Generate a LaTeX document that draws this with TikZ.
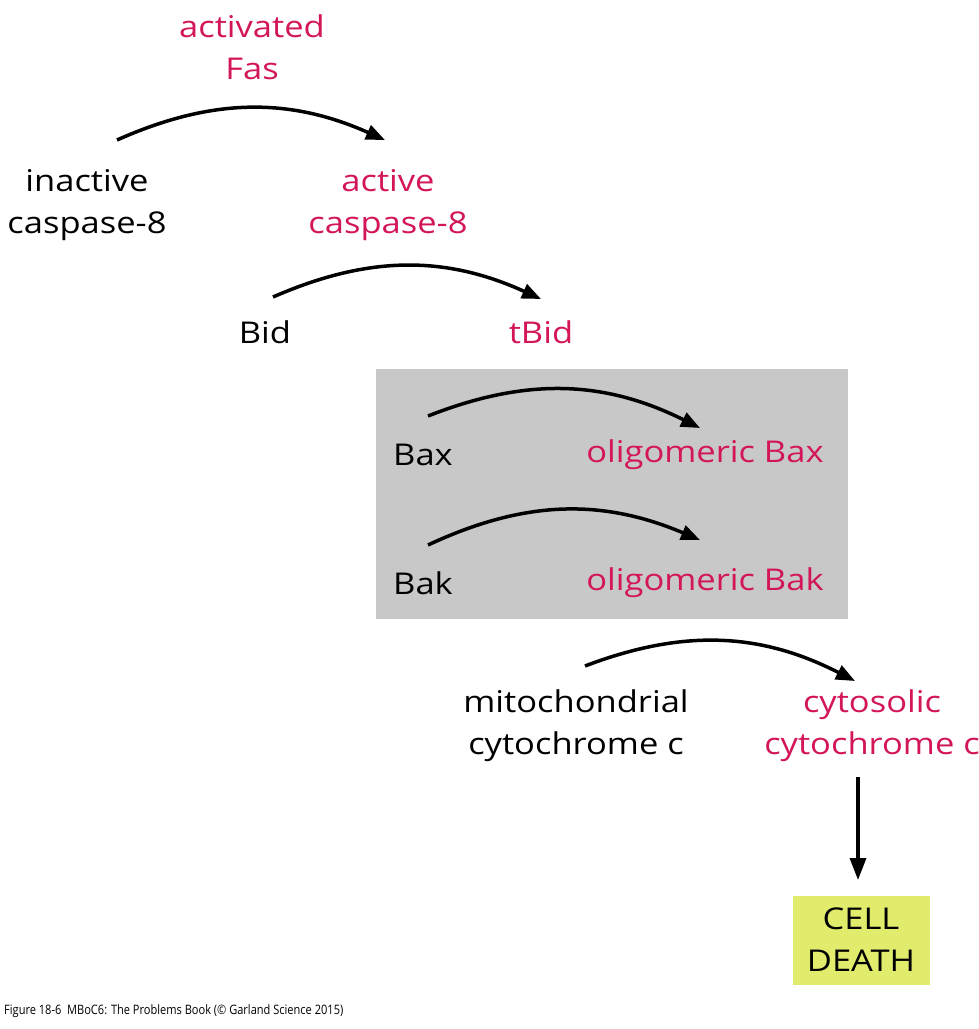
\documentclass[tikz,border=0pt]{standalone}
\usepackage{fontspec}
\setmainfont{Open Sans}[FakeStretch=1.15]
\newfontfamily\capfont{Open Sans}[FakeStretch=0.85]
\usetikzlibrary{arrows.meta}
\definecolor{pk}{HTML}{D3155A}
\definecolor{gbox}{HTML}{C8C8C8}
\definecolor{yl}{HTML}{E2EC6C}
\begin{document}
\begin{tikzpicture}[x=1pt,y=-1pt,
  lbl/.style={font=\fontsize{30}{42}\selectfont,align=center,inner sep=0},
  act/.style={lbl,text=pk},
  arc/.style={line width=3.5pt,-{Triangle[length=19pt,width=15pt]},bend left=24}]
\useasboundingbox (0,0) rectangle (979,1029);
\fill[gbox] (376,369) rectangle (848,619);
\node[act] (fas) at (252,47) {activated\\Fas};
\node[lbl] (ic8) at (87,205) {inactive\\caspase-8};
\node[act] (ac8) at (388,205) {active\\caspase-8};
\node[lbl] (bid) at (265,332) {Bid};
\node[act] (tbid) at (541,332) {tBid};
\node[lbl,anchor=west] (bax) at (393,455) {Bax};
\node[act] (obax) at (705,455) {oligomeric Bax};
\node[lbl,anchor=west] (bak) at (393,583) {Bak};
\node[act] (obak) at (705,583) {oligomeric Bak};
\node[lbl] (mc) at (576,726) {mitochondrial\\cytochrome c};
\node[act] (cc) at (872,726) {cytosolic\\cytochrome c};
\node[fill=yl,minimum width=137,minimum height=89,inner sep=0,align=center,font=\fontsize{30}{42}\selectfont] (death) at (861,940) {CELL\\DEATH};
\node[anchor=west,font=\fontsize{13}{14}\selectfont\capfont,inner sep=0] (cap) at (4,1011) {Figure 18-6 \ MBoC6: The Problems Book (© Garland Science 2015)};
\coordinate (a1s) at (117,140); \coordinate (a1e) at (385,140);
\coordinate (a2s) at (273,297); \coordinate (a2e) at (541,299);
\coordinate (a3s) at (428,416); \coordinate (a3e) at (700,428);
\coordinate (a4s) at (428,545); \coordinate (a4e) at (700,540);
\coordinate (a5s) at (585,666); \coordinate (a5e) at (855,681);
\coordinate (ds) at (858,777); \coordinate (de) at (858,880);
\draw[arc] (a1s) to (a1e);
\draw[arc] (a2s) to (a2e);
\draw[arc] (a3s) to (a3e);
\draw[arc] (a4s) to (a4e);
\draw[arc] (a5s) to (a5e);
\draw[line width=3.5pt,-{Triangle[length=22pt,width=16pt]}] (ds) -- (de);
\end{tikzpicture}
\end{document}
